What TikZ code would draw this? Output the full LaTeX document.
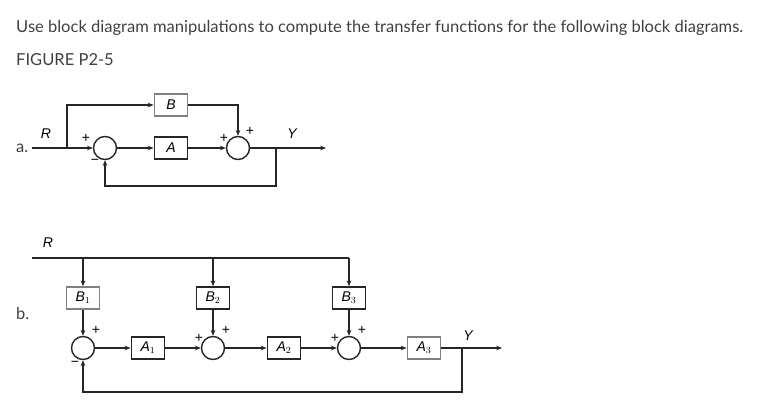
\documentclass[tikz,border=0pt]{standalone}
\usepackage{fontspec}
\setmainfont{Lato}
\newfontfamily\lblfont{Liberation Sans}
\usetikzlibrary{arrows.meta}
\begin{document}
\begin{tikzpicture}[x=0.3mm,y=-0.3mm,
  wire/.style={line width=1.3pt,draw=black!85},
  arr/.style={wire,-{Stealth[length=5pt,width=4pt]}},
  blk/.style={draw=black!85,line width=1.3pt,fill=white,minimum width=10mm,minimum height=6.6mm,inner sep=0pt,font=\lblfont\itshape\large},
  gblk/.style={blk,draw=black!50},
  sumn/.style={circle,draw=black!85,line width=1.2pt,minimum size=6.9mm,inner sep=0pt},
  lab/.style={font=\lblfont\itshape\large,inner sep=1pt},
  sgn/.style={font=\lblfont\large,inner sep=0pt},
  txt/.style={font=\fontsize{14.1}{16}\selectfont,text=black!75,inner sep=0pt,anchor=west}]
\useasboundingbox (0,0) rectangle (773,417);
\node[txt] (h1) at (16,28) {Use block diagram manipulations to compute the transfer functions for the following block diagrams.};
\node[txt] (h2) at (16,60) {FIGURE P2-5};
% ---- a
\node[txt] (la) at (16,148) {a.};
\coordinate (aR) at (32,148);
\coordinate (aJ) at (67,148);
\node[sumn] (s1) at (105,148) {};
\node[blk] (A) at (171,148) {A};
\node[gblk] (B) at (171,105) {B};
\node[sumn] (s2) at (238,148) {};
\coordinate (aY) at (326,148);
\coordinate (aF) at (276,148);
\node[lab] (lR) at (46,134) {R};
\node[lab] (lY) at (292,134) {Y};
\draw[wire] (aR) -- (aJ);
\draw[arr] (aJ) -- (s1);
\draw[arr] (aJ) |- (B);
\draw[arr] (s1) -- (A);
\draw[arr] (A) -- (s2);
\draw[arr] (B.east) -| (s2);
\draw[arr] (s2) -- (aY);
\draw[arr] (aF) |- (105,186) -- (s1);
\node[sgn] at (86,138) {+};
\node[sgn] at (95,162) {\textminus};
\node[sgn] at (224,138) {+};
\node[sgn] at (250,131) {+};
% ---- b
\node[txt] (lb) at (16,313) {b.};
\coordinate (bR) at (32,258);
\coordinate (bE) at (349,258);
\node[lab] at (48,243) {R};
\node[gblk] (B1) at (83,298) {B$_1$};
\node[blk] (B2) at (213,298) {B$_2$};
\node[blk] (B3) at (349,298) {B$_3$};
\node[sumn] (t1) at (83,348) {};
\node[sumn] (t2) at (213,348) {};
\node[sumn] (t3) at (349,348) {};
\node[blk] (A1) at (148,348) {A$_1$};
\node[blk] (A2) at (284,348) {A$_2$};
\node[gblk] (A3) at (424,348) {A$_3$};
\coordinate (bY) at (502,348);
\coordinate (bF) at (462,348);
\node[lab] at (468,336) {Y};
\draw[wire] (bR) -- (bE);
\draw[arr] (83,258) -- (B1);
\draw[arr] (213,258) -- (B2);
\draw[arr] (bE) -- (B3);
\draw[arr] (B1) -- (t1);
\draw[arr] (B2) -- (t2);
\draw[arr] (B3) -- (t3);
\draw[arr] (t1) -- (A1);
\draw[arr] (A1) -- (t2);
\draw[arr] (t2) -- (A2);
\draw[arr] (A2) -- (t3);
\draw[arr] (t3) -- (A3);
\draw[arr] (A3) -- (bY);
\draw[arr] (bF) |- (83,392) -- (t1);
\node[sgn] at (96,330) {+};
\node[sgn] at (75,364) {\textminus};
\node[sgn] at (199,338) {+};
\node[sgn] at (226,330) {+};
\node[sgn] at (335,338) {+};
\node[sgn] at (362,330) {+};
\end{tikzpicture}
\end{document}
